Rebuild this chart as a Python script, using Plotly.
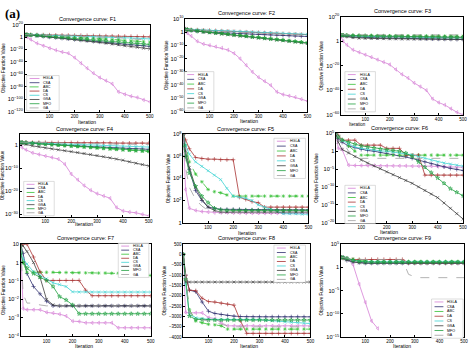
import plotly.graph_objects as go

W, H = 474, 352
ITER = [1, 10, 25, 50, 75, 100, 125, 150, 175, 200, 225, 250, 275, 300, 325, 350, 375, 400, 425, 450, 475, 500]
ALGOS = ["HGLA", "CSA", "ABC", "DA", "CS", "GSA", "MFO", "GA"]
TITLES = ["Convergence curve: F%d" % i for i in range(1, 10)]

# ---- F1 (log10 of objective value) ----
F1_HGLA = [3, 0, -4, -10, -14, -18, -21, -24, -26, -33, -42, -50, -58, -65, -70, -75, -88, -92, -95, -97, -101, -104]
F1_CSA = [4, 3.5, 3, 2, 1, 0, -1, -2, -3, -4, -5, -6, -7, -8, -9, -10, -11, -12, -12.5, -13.5, -14, -15]
F1_ABC = [4, 3.8, 3.5, 3, 2.5, 2, 1.5, 1, 0.5, 0, -0.5, -1, -1.5, -2.5, -3, -4, -4.5, -5.5, -6, -6.5, -7.5, -8]
F1_DA = [4, 4, 3.9, 3.7, 3.5, 3.3, 3.1, 3, 2.8, 2.6, 2.5, 2.3, 2.1, 2, 1.8, 1.6, 1.4, 1.2, 1, 0.8, 0.5, 0.3]
F1_CS = [4, 3.9, 3.7, 3.4, 3.1, 2.8, 2.5, 2.2, 2, 1.7, 1.4, 1.1, 0.8, 0.5, 0.2, -0.2, -0.6, -1, -1.5, -2, -2.5, -3]
F1_GSA = [4, 3.5, 3, 2, 1, 0, -1, -2, -3, -4, -5, -6, -7, -8, -9.5, -11, -12.5, -14, -15.5, -16.5, -18, -19]
F1_MFO = [4, 3.7, 3.2, 2.5, 1.8, 1, 0.3, -0.5, -1.2, -2, -2.8, -3.5, -4.3, -5, -6, -7, -7.8, -8.6, -9.5, -10.3, -11.2, -12]
F1_GA = [4, 3.9, 3.8, 3.5, 3.2, 3, 2.6, 2.3, 2, 1.6, 1.3, 1, 0.6, 0.3, 0, -0.5, -1, -1.8, -2.5, -3.2, -4, -5]

# ---- F2 ----
F2_HGLA = [2.6, -1, -3, -7, -9, -10, -11, -12, -13.5, -16, -20, -25, -30, -34, -37, -40, -45, -47, -48, -49, -50.5, -52]
F2_CSA = [2, 1.5, 1, 0.5, 0.2, 0, -0.3, -0.5, -0.8, -1, -1.2, -1.4, -1.6, -1.8, -2, -2.2, -2.4, -2.6, -2.8, -3, -3.2, -3.4]
F2_ABC = [2, 1.8, 1.5, 1, 0.5, 0, -0.5, -1, -1.5, -2, -2.5, -3, -3.5, -4, -4.5, -5, -5.5, -6, -6.5, -7, -7.5, -8]
F2_DA = [2, 1.9, 1.8, 1.6, 1.4, 1.2, 1, 0.8, 0.6, 0.4, 0.2, 0, -0.2, -0.4, -0.6, -0.8, -1, -1.2, -1.4, -1.6, -1.8, -2]
F2_CS = [2, 1.9, 1.8, 1.6, 1.5, 1.3, 1.1, 1, 0.8, 0.6, 0.4, 0.2, 0, -0.2, -0.4, -0.6, -0.8, -1, -1.2, -1.4, -1.6, -1.8]
F2_GSA = [2, 1.6, 1.2, 0.6, 0, -0.5, -1, -1.5, -2, -2.5, -3, -3.5, -4, -4.5, -5, -5.5, -6, -6.5, -7, -7.5, -8, -8.5]
F2_MFO = [2, 1.7, 1.3, 0.8, 0.3, -0.2, -0.7, -1.2, -1.7, -2.2, -2.7, -3.2, -3.7, -4.2, -4.7, -5.2, -5.7, -6.2, -6.7, -7.2, -7.7, -8.2]
F2_GA = [2, 1.8, 1.6, 1.3, 1, 0.7, 0.5, 0.3, 0.1, -0.1, -0.3, -0.5, -0.7, -0.9, -1.1, -1.3, -1.5, -1.7, -1.9, -2.1, -2.3, -2.5]

# ---- F3 ----
F3_HGLA = [4, 0, -3, -7, -9, -11, -13, -15, -17, -19, -23, -27, -30, -34, -37, -40, -47, -50, -52, -55, -58, -60]
F3_CSA = [5, 4.5, 4, 3.5, 3.2, 3, 2.9, 2.8, 2.7, 2.6, 2.5, 2.4, 2.3, 2.2, 2.1, 2, 1.9, 1.8, 1.7, 1.6, 1.5, 1.4]
F3_ABC = [5, 5, 4.9, 4.8, 4.8, 4.7, 4.7, 4.6, 4.6, 4.5, 4.5, 4.5, 4.4, 4.4, 4.4, 4.3, 4.3, 4.3, 4.2, 4.2, 4.2, 4.2]
F3_DA = [5, 4.8, 4.6, 4.3, 4.1, 4, 3.9, 3.8, 3.7, 3.6, 3.5, 3.4, 3.4, 3.3, 3.2, 3.2, 3.1, 3.1, 3, 3, 2.9, 2.9]
F3_CS = [5, 4.8, 4.5, 4.2, 4, 3.9, 3.8, 3.7, 3.6, 3.5, 3.4, 3.3, 3.2, 3.1, 3, 3, 2.9, 2.8, 2.8, 2.7, 2.7, 2.6]
F3_GSA = [5, 4.5, 3.8, 3, 2.6, 2.4, 2.3, 2.2, 2.1, 2, 2, 1.9, 1.9, 1.8, 1.8, 1.7, 1.7, 1.6, 1.6, 1.5, 1.5, 1.5]
F3_MFO = [5, 4.9, 4.8, 4.6, 4.5, 4.4, 4.3, 4.2, 4.1, 4, 4, 3.9, 3.8, 3.8, 3.7, 3.7, 3.6, 3.6, 3.5, 3.5, 3.4, 3.4]
F3_GA = [5.3, 5.3, 5.3, 5.2, 5.2, 5.2, 5.2, 5.2, 5.2, 5.2, 5.2, 5.2, 5.2, 5.2, 5.2, 5.2, 5.2, 5.2, 5.2, 5.2, 5.2, 5.2]

# ---- F4 ----
F4_HGLA = [0.4, -1, -2, -3.3, -4, -4.7, -5.3, -6, -8.2, -12.5, -15, -17.5, -19.5, -21, -22, -23, -27, -28.5, -29, -29.3, -30, -30.6]
F4_CSA = [1.2, 1.1, 1, 0.8, 0.6, 0.5, 0.3, 0.2, 0, -0.1, -0.3, -0.4, -0.6, -0.7, -0.9, -1, -1.1, -1.3, -1.4, -1.5, -1.6, -1.8]
F4_ABC = [1.2, 1.1, 1, 0.8, 0.6, 0.4, 0.2, 0, -0.2, -0.4, -0.6, -0.8, -1, -1.2, -1.4, -1.6, -1.8, -2, -2.2, -2.4, -2.6, -2.8]
F4_DA = [1.3, 1.3, 1.3, 1.2, 1.2, 1.2, 1.1, 1.1, 1.1, 1.1, 1, 1, 1, 1, 1, 1, 0.9, 0.9, 0.9, 0.9, 0.9, 0.9]
F4_CS = [1.3, 1.2, 1.1, 1, 0.9, 0.8, 0.7, 0.6, 0.5, 0.4, 0.3, 0.2, 0.1, 0, -0.1, -0.2, -0.3, -0.4, -0.5, -0.6, -0.7, -0.8]
F4_GSA = [1, 0.7, 0.3, -0.3, -0.7, -1.2, -1.6, -2, -2.4, -2.8, -3.2, -3.6, -4, -4.5, -5, -5.5, -6, -6.5, -7.2, -7.8, -8.4, -9]
F4_MFO = [1.3, 1.2, 1.1, 0.9, 0.7, 0.5, 0.3, 0.1, -0.1, -0.3, -0.5, -0.7, -0.9, -1.1, -1.3, -1.5, -1.7, -1.9, -2.1, -2.3, -2.4, -2.5]
F4_GA = [1.3, 1.3, 1.2, 1.2, 1.1, 1.1, 1, 1, 0.9, 0.9, 0.8, 0.8, 0.7, 0.7, 0.6, 0.6, 0.5, 0.5, 0.4, 0.4, 0.3, 0.3]

# ---- F5 ----
F5_HGLA = [8, 3, 1.3, 1.1, 1.0, 0.95, 0.9, 0.9, 0.9, 0.88, 0.88, 0.86, 0.86, 0.86, 0.85, 0.85, 0.85, 0.85, 0.85, 0.85, 0.85, 0.85]
F5_CSA = [8, 6, 4.8, 2.9, 2, 1.4, 1.3, 1.2, 1.2, 1.2, 1.2, 1.15, 1.15, 1.15, 1.15, 1.15, 1.15, 1.15, 1.15, 1.15, 1.15, 1.15]
F5_ABC = [8, 7, 5.5, 4.4, 3.7, 3, 2.8, 2.7, 2.5, 2.4, 2.4, 2.4, 2.4, 2.4, 2.4, 2.4, 2.4, 2.4, 2.4, 2.4, 2.4, 2.4]
F5_DA = [8, 7.5, 6.7, 5.9, 5.8, 5.75, 5.75, 5.7, 5.7, 5.7, 2.3, 2.1, 1.9, 1.8, 1.4, 1.4, 1.4, 1.4, 1.4, 1.4, 1.4, 1.4]
F5_CS = [8, 7, 6.2, 5.5, 5.1, 4.7, 4.3, 3.9, 3.1, 2.4, 2.3, 2.2, 2.0, 1.6, 1.4, 1.2, 1.0, 0.8, 0.8, 0.8, 0.75, 0.75]
F5_GSA = [8, 6.5, 5.0, 3.2, 2.1, 1.4, 1.1, 0.95, 0.95, 0.95, 0.95, 0.95, 0.95, 0.95, 0.95, 0.95, 0.95, 0.95, 0.95, 0.95, 0.95, 0.95]
F5_MFO = [7, 6, 4.5, 3.3, 2.4, 1.8, 1.3, 1.15, 1.1, 1.1, 1.1, 1.1, 1.1, 1.1, 1.1, 1.1, 1.1, 1.1, 1.1, 1.1, 1.1, 1.1]
F5_GA = [8, 5, 3.2, 2.1, 1.5, 1.1, 1.0, 0.95, 0.95, 0.95, 0.95, 0.95, 0.95, 0.95, 0.95, 0.95, 0.95, 0.95, 0.95, 0.95, 0.95, 0.95]

# ---- F6 ----
F6_HGLA = [5, 0.8, 0.5, -3.9, -4.0, -4.0, -4.0, -4.0, -4.1, -4.1, -4.1, -4.1, -4.1, -4.2, -4.2, -4.2, -4.2, -4.3, -4.3, -4.3, -4.4, -4.5]
F6_CSA = [5, 3.5, 2.5, 1.5, 1.0, 0.5, 0.2, 0, -0.3, -0.6, -0.9, -1.2, -1.5, -2, -2.5, -3, -3.5, -4, -4.4, -4.8, -5.1, -5.4]
F6_ABC = [5, 4, 3, 1.5, 0, -1.1, -1.1, -1.1, -1.1, -1.1, -1.1, -1.1, -1.1, -1.1, -1.1, -1.1, -1.1, -1.1, -1.1, -1.1, -1.1, -1.1]
F6_DA = [5, 4.5, 3.1, 3.1, 3.1, 1.7, 1.7, 1.7, 1.7, 0.8, 0.8, 0.8, -1.1, -1.1, -1.1, -6.7, -6.7, -6.7, -6.7, -6.7, -6.7, -6.7]
F6_CS = [5, 4, 3, 2, 1.2, 0.8, 0.5, 0.3, 0.1, 0, -0.2, -0.4, -0.7, -1, -1.5, -2, -2.5, -3, -3.3, -3.6, -3.9, -4.2]
F6_GSA = [5, 2.5, 0.5, -0.5, -1.5, -2.5, -3.3, -4.1, -4.9, -5.8, -6.6, -7.4, -8.2, -9.0, -10, -11, -12, -13, -14.5, -16, -17.5, -19]
F6_MFO = [5, 4, 3.2, 2.5, 2, 1.5, 1.2, 0.9, 0.6, 0.4, 0.2, 0, -0.5, -1.5, -3, -4.5, -6, -7.5, -9, -10.5, -11.5, -12.5]
F6_GA = [5, 4, 3, 0, -2, -2, -2, -2, -2, -2, -2, -2, -2, -2, -2, -2, -2, -2, -2, -2, -2, -2]

# ---- F7 ----
F7_HGLA = [1, -2.5, -2.56, -2.56, -2.56, -2.7, -2.74, -2.8, -2.9, -3.18, -3.2, -3.27, -3.27, -3.27, -3.27, -3.27, -3.54, -3.54, -3.54, -3.54, -3.54, -3.54]
F7_CSA = [1, 0.5, -0.6, -1.3, -1.7, -2.1, -2.35, -2.35, -2.35, -2.35, -2.35, -2.35, -2.35, -2.35, -2.35, -2.35, -2.35, -2.35, -2.35, -2.35, -2.35, -2.35]
F7_ABC = [1, 0, -0.52, -0.52, -0.52, -0.53, -0.53, -0.54, -0.54, -0.55, -0.55, -0.56, -0.56, -0.57, -0.57, -0.58, -0.58, -0.59, -0.6, -0.62, -0.65, -0.7]
F7_DA = [1, 1, 1, 0.3, -0.5, -0.97, -0.97, -0.97, -0.97, -0.97, -0.97, -1.5, -1.8, -1.8, -1.8, -1.8, -1.8, -1.8, -1.8, -1.8, -1.8, -1.8]
F7_CS = [0.6, 0.2, -0.08, -0.5, -0.7, -0.88, -1.1, -1.2, -1.3, -1.59, -1.6, -1.6, -1.6, -1.6, -1.6, -1.6, -1.6, -1.6, -1.6, -1.6, -1.6, -1.6]
F7_GSA = [1, 0.9, 0.6, 0, -0.8, -2.0, -2.3, -2.35, -2.35, -2.35, -2.35, -2.35, -2.35, -2.35, -2.35, -2.35, -2.35, -2.35, -2.35, -2.35, -2.35, -2.35]
F7_MFO = [0.5, 0, -0.3, -0.6, -0.8, -0.97, -1.3, -1.85, -2.03, -2.3, -2.78, -2.78, -2.78, -2.78, -2.78, -2.78, -2.78, -2.78, -2.78, -2.78, -2.78, -2.78]
F7_GA = [1, -1.7, -2.2, -2.2, -2.3, -2.35, -2.35, -2.35, -2.35, -2.35, -2.35, -2.35, -2.35, -2.35, -2.35, -2.35, -2.35, -2.35, -2.35, -2.35, -2.35, -2.35]

# ---- F8 (linear objective value) ----
F8_HGLA = [0, -2800, -2820, -2820, -2820, -3050, -3100, -3300, -3450, -3450, -3450, -3450, -3450, -3450, -3450, -3450, -3450, -3450, -3450, -3450, -3450, -3450]
F8_CSA = [0, -1000, -1725, -1800, -2300, -2745, -2850, -2902, -2950, -2980, -3000, -3012, -3012, -3012, -3012, -3012, -3012, -3012, -3012, -3012, -3012, -3012]
F8_ABC = [0, -1200, -2667, -3216, -3300, -3373, -3400, -3450, -3608, -3608, -3608, -3608, -3608, -3608, -3608, -3608, -3608, -3608, -3608, -3608, -3608, -3608]
F8_DA = [0, -1000, -1725, -1750, -2118, -2275, -2300, -2353, -2400, -2450, -3200, -3812, -3812, -3812, -3812, -3812, -3812, -3812, -3812, -3812, -3812, -3812]
F8_CS = [0, -1400, -2902, -3059, -3100, -3137, -3137, -3137, -3137, -3140, -3145, -3150, -3150, -3150, -3180, -3200, -3230, -3260, -3280, -3300, -3320, -3341]
F8_GSA = [0, -1333, -1333, -1333, -1333, -1333, -1333, -1333, -1333, -1333, -1333, -1333, -1333, -1333, -1333, -1333, -1333, -1333, -1333, -1333, -1333, -1333]
F8_MFO = [0, -1200, -2980, -3137, -3150, -3170, -3170, -3170, -3170, -3170, -3170, -3170, -3170, -3170, -3170, -3170, -3170, -3170, -3170, -3170, -3170, -3170]
F8_GA = [0, -1000, -2824, -3000, -3150, -3216, -3300, -3400, -3450, -3498, -3498, -3498, -3498, -3498, -3498, -3498, -3498, -3498, -3498, -3498, -3498, -3498]

# ---- F9 ----
F9_HGLA = [2.2, 2.2, 2.0, 0.6, -3.6, -7.5, -11.5, -13.1, None, None, None, None, None, None, None, None, None, None, None, None, None, None]
F9_CSA = [2.2, 2.0, 1.5, 1.2, 1.0, 0.9, 0.9, 0.9, 0.9, 0.9, 0.9, 0.9, 0.9, 0.9, 0.9, 0.9, 0.9, 0.9, 0.9, 0.9, 0.9, 0.9]
F9_ABC = [2.2, 2.1, 2.0, 1.8, 1.6, 1.4, 1.3, 1.3, 1.3, 1.3, 1.3, 1.3, 1.3, 1.3, 1.3, 1.3, 1.3, 1.3, 1.3, 1.3, 1.3, 1.3]
F9_DA = [2.2, 2.0, 1.8, 1.7, 1.7, 1.7, 1.7, 1.7, 1.7, 1.7, 1.7, 1.7, 1.0, 1.0, 1.0, 1.0, 1.0, 1.0, 1.0, 1.0, 1.0, 1.0]
F9_CS = [2.2, 2.1, 1.9, 1.5, 1.3, 1.2, 1.2, 1.2, 1.2, 1.2, 1.2, 1.2, 1.2, 1.2, 1.2, 1.2, 1.2, 1.2, 1.2, 1.2, 1.2, 1.2]
F9_GSA = [2.2, 2.0, 1.6, 1.2, 1.0, 0.9, 0.9, 0.9, 0.9, 0.9, 0.9, 0.9, 0.9, 0.9, 0.9, 0.9, 0.9, 0.9, 0.9, 0.9, 0.9, 0.9]
F9_MFO = [2.2, 2.1, 1.9, 1.5, 1.3, 1.2, 1.1, 1.1, 1.1, 1.1, 1.1, 1.1, 1.1, 1.1, 1.1, 1.1, 1.1, 1.1, 1.1, 1.1, 1.1, 1.1]
F9_GA = [2.2, 2.1, 2.0, 1.8, 1.7, 1.7, 1.7, 1.7, 1.7, 1.7, 1.7, 1.7, -1.5, -2.0, -2.2, -2.2, -2.2, -2.2, -2.2, -2.2, -2.2, -2.2]

SERIES = [
    [F1_HGLA, F1_CSA, F1_ABC, F1_DA, F1_CS, F1_GSA, F1_MFO, F1_GA],
    [F2_HGLA, F2_CSA, F2_ABC, F2_DA, F2_CS, F2_GSA, F2_MFO, F2_GA],
    [F3_HGLA, F3_CSA, F3_ABC, F3_DA, F3_CS, F3_GSA, F3_MFO, F3_GA],
    [F4_HGLA, F4_CSA, F4_ABC, F4_DA, F4_CS, F4_GSA, F4_MFO, F4_GA],
    [F5_HGLA, F5_CSA, F5_ABC, F5_DA, F5_CS, F5_GSA, F5_MFO, F5_GA],
    [F6_HGLA, F6_CSA, F6_ABC, F6_DA, F6_CS, F6_GSA, F6_MFO, F6_GA],
    [F7_HGLA, F7_CSA, F7_ABC, F7_DA, F7_CS, F7_GSA, F7_MFO, F7_GA],
    [F8_HGLA, F8_CSA, F8_ABC, F8_DA, F8_CS, F8_GSA, F8_MFO, F8_GA],
    [F9_HGLA, F9_CSA, F9_ABC, F9_DA, F9_CS, F9_GSA, F9_MFO, F9_GA],
]
IS_LOG = [True, True, True, True, True, True, True, False, True]
# y ranges (log10 for log axes) and tick steps
YRANGE = [[-120, 20], [-60, 10], [-60, 20], [-31, 4.7], [0, 8], [-20, 5], [-4, 1], [-4000, 500], [-15, 5]]
YDTICK = [20, 10, 20, 10, 2, 5, 1, 500, 5]

# styles
COLORS = ["#d57fd5", "#2e2e6e", "#35c035", "#a83232", "#3fd3d3", "#3c3c3c", "#1f9f3f", "#a0a0a0"]
SYMBOLS = ["triangle-left-open", "cross-thin-open", "asterisk-open", "cross-thin-open",
           "x-thin-open", "x-thin-open", "star-open", None]
DASHES = ["solid", "solid", "dash", "solid", "solid", "solid", "solid", "dash"]

# plot boxes in pixels: x0, x1, y0(top), y1(bottom)
BOXES = [(22, 149, 21, 110), (185, 309, 15, 110), (343, 467, 13, 113),
         (17, 148, 133, 217), (183, 310, 133, 223), (338, 467, 132, 223),
         (18, 150, 245, 339), (183, 312, 245, 340), (343, 468, 245, 340)]
# "Iteration" label centre positions in pixels and font sizes
XLABEL_POS = [(85, 120), (250, 119), (360, 122.5), (82, 224), (248, 233.5), (392, 233),
              (82, 348.5), (250, 349), (405, 349)]
XLABEL_SIZE = [5, 5, 4.5, 5, 5, 5, 5, 5, 5]
# legend: line x0, line x1, text x, first row y, last row y
LEGENDS = [(27, 37, 39, 76, 106), (187, 194, 196, 72, 106), (350, 358, 360, 72, 107),
           (24, 32, 34, 184, 213), (278, 287, 289, 140, 175), (350, 358, 360, 188, 221),
           (120, 128, 130, 247, 276), (278, 287, 289, 249, 281), (438, 447, 449, 304, 338)]

def px(x):
    return x / W

def py(y):
    return 1 - y / H

fig = go.Figure()
layout = dict(width=W, height=H, margin=dict(l=0, r=0, t=0, b=0),
              paper_bgcolor="white", plot_bgcolor="white", showlegend=False,
              font=dict(family="Liberation Sans, Arial, sans-serif", color="black"))
annotations = []
shapes = []

for k in range(9):
    n = k + 1
    xa = "x" if n == 1 else "x%d" % n
    ya = "y" if n == 1 else "y%d" % n
    x0, x1, y0, y1 = BOXES[k]
    for j, name in enumerate(ALGOS):
        vals = SERIES[k][j]
        if IS_LOG[k]:
            yv = [None if v is None else 10 ** v for v in vals]
        else:
            yv = vals
        sym = SYMBOLS[j]
        fig.add_trace(go.Scatter(
            x=ITER, y=yv, name=name, xaxis=xa, yaxis=ya,
            mode="lines+markers" if sym else "lines",
            line=dict(color=COLORS[j], width=0.8, dash=DASHES[j]),
            marker=dict(symbol=sym or "circle", size=3, color=COLORS[j],
                        line=dict(color=COLORS[j], width=0.6)),
            connectgaps=False,
        ))
    axstyle = dict(showline=True, linecolor="black", linewidth=0.7, mirror=True,
                   ticks="inside", ticklen=2, tickwidth=0.6, tickcolor="black",
                   showgrid=False, zeroline=False, tickfont=dict(size=4.5, color="black"))
    layout["xaxis" if n == 1 else "xaxis%d" % n] = dict(
        domain=[px(x0), px(x1)], anchor=ya, range=[1, 500],
        tickvals=[100, 200, 300, 400, 500], **axstyle)
    yd = dict(domain=[py(y1), py(y0)], anchor=xa, range=YRANGE[k], dtick=YDTICK[k],
              title=dict(text="Objective Function Value", font=dict(size=4.5), standoff=2),
              **axstyle)
    if IS_LOG[k]:
        yd.update(type="log", exponentformat="power", showexponent="all")
    layout["yaxis" if n == 1 else "yaxis%d" % n] = yd
    annotations.append(dict(text=TITLES[k], x=px((x0 + x1) / 2), y=py(y0) + 0.002,
                            xref="paper", yref="paper", xanchor="center", yanchor="bottom",
                            showarrow=False, font=dict(size=5.5)))
    lxp, lyp = XLABEL_POS[k]
    annotations.append(dict(text="Iteration", x=px(lxp), y=py(lyp), xref="paper", yref="paper",
                            xanchor="center", yanchor="middle", showarrow=False,
                            font=dict(size=XLABEL_SIZE[k])))
    # legend drawn as shapes + text
    lx0, lx1, tx, ly0, ly1 = LEGENDS[k]
    step = (ly1 - ly0) / 7
    shapes.append(dict(type="rect", xref="paper", yref="paper",
                       x0=px(lx0 - 3), x1=px(tx + 18), y0=py(ly1 + 3), y1=py(ly0 - 3),
                       line=dict(color="#bbbbbb", width=0.5), fillcolor="white", layer="above"))
    for j, name in enumerate(ALGOS):
        yy = ly0 + j * step
        shapes.append(dict(type="line", xref="paper", yref="paper",
                           x0=px(lx0), x1=px(lx1), y0=py(yy), y1=py(yy),
                           line=dict(color=COLORS[j], width=0.8, dash=DASHES[j]), layer="above"))
        annotations.append(dict(text=name, x=px(tx), y=py(yy), xref="paper", yref="paper",
                                xanchor="left", yanchor="middle", showarrow=False,
                                font=dict(size=3.6)))

annotations.append(dict(text="<b>(a)</b>", x=0.0, y=1.0, xref="paper", yref="paper",
                        xanchor="left", yanchor="top", showarrow=False,
                        font=dict(size=13, family="Liberation Serif, Times New Roman, serif")))
layout["annotations"] = annotations
layout["shapes"] = shapes
fig.update_layout(**layout)
fig.write_html("out.html")
